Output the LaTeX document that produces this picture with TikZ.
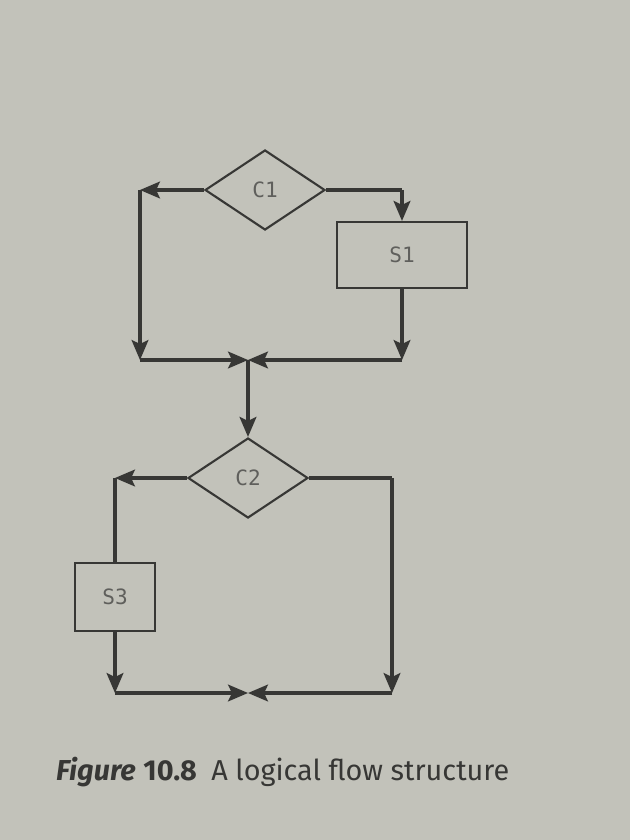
\documentclass[tikz,border=0pt]{standalone}
\usepackage{fontspec}
\setmainfont{Fira Sans}
\setmonofont{DejaVu Sans Mono}
\usepackage{tikz}
\usetikzlibrary{shapes.geometric,arrows.meta,positioning}
\definecolor{mypage}{RGB}{194,194,186}
\definecolor{myink}{RGB}{55,55,53}
\definecolor{mylabel}{RGB}{95,95,92}
\tikzstyle{decision}=[draw=myink,line width=1.5pt,diamond,minimum width=30mm,minimum height=20mm,inner sep=0pt,text=mylabel,font=\ttfamily\fontsize{15}{17}\selectfont]
\tikzstyle{process}=[draw=myink,line width=1.5pt,rectangle,minimum height=16.5mm,text=mylabel,font=\ttfamily\fontsize{15}{17}\selectfont]

\begin{document}
\begin{tikzpicture}[
  x=0.25mm,
  y=-0.25mm,
  line width=2.2pt,
  draw=myink,
  flow/.style={-{Stealth[length=5mm,width=4.2mm,inset=1mm]}}
]
\fill[mypage] (0,0) rectangle (630,840);
\useasboundingbox (0,0) rectangle (630,840);

% first decision
\node [decision] (c1) at (265,190) {C1};
\node [process,minimum width=32.5mm] (s1) at (402,255) {S1};
\coordinate (tl) at (140,190);
\coordinate (tr) at (c1.east -| s1.north);
\coordinate (bl) at (140,360);
\coordinate (br) at (402,360);
\coordinate (j1) at (248,360);

% second decision
\node [decision,minimum width=30mm] (c2) at (248,478) {C2};
\node [process,minimum width=20mm,minimum height=17mm] (s3) at (115,597) {S3};
\coordinate (ml) at (c2.west -| s3.north);
\coordinate (mr) at (392,478);
\coordinate (ll) at (115,693);
\coordinate (lr) at (392,693);
\coordinate (j2) at (248,693);

\draw[flow] (c1.west) -- (tl);
\draw[flow] (tl) -- (bl);
\draw[flow] (bl) -- (j1);
\draw (c1.east) -- (tr);
\draw[flow] (tr) -- (s1.north);
\draw[flow] (s1.south) -- (br);
\draw[flow] (br) -- (j1);
\draw[flow] (j1) -- (c2.north);

\draw[flow] (c2.west) -- (ml);
\draw (ml) -- (s3.north);
\draw[flow] (s3.south) -- (ll);
\draw[flow] (ll) -- (j2);
\draw (c2.east) -- (mr);
\draw[flow] (mr) -- (lr);
\draw[flow] (lr) -- (j2);

\node [anchor=west,text=myink,font=\fontsize{20.5}{24}\selectfont] (caption) at (50,772)
  {\textbf{\textit{Figure}} \textbf{10.8}\enspace A logical flow structure};
\end{tikzpicture}
\end{document}
